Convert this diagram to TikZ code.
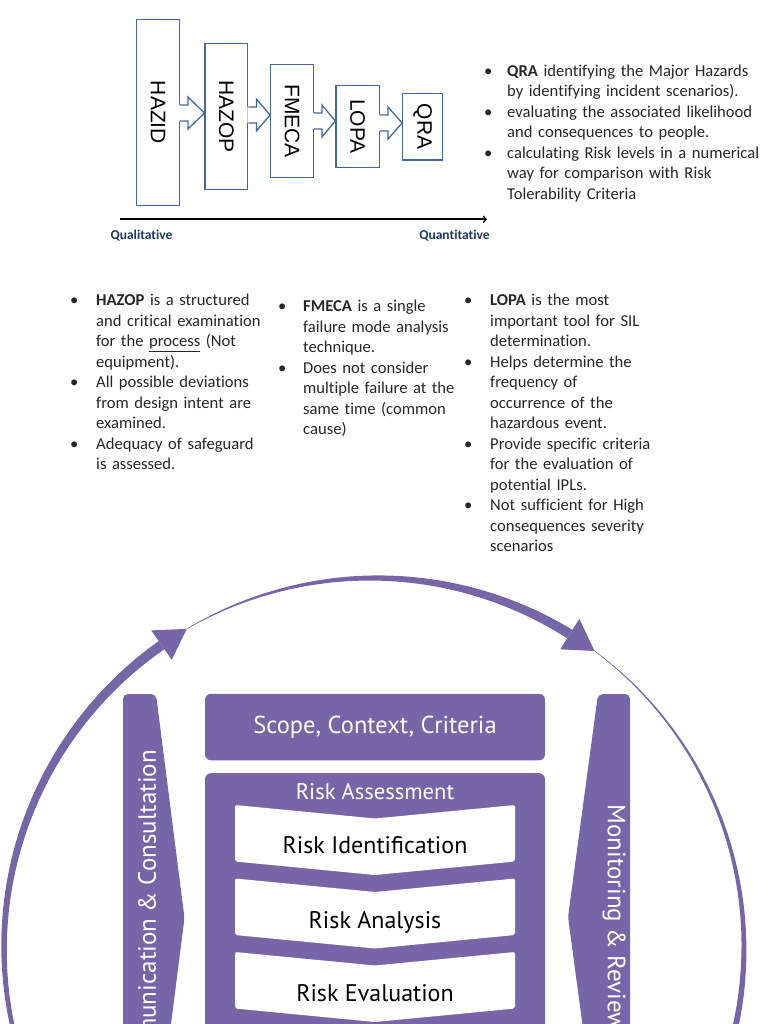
\documentclass[tikz,border=0pt]{standalone}
\usepackage{fontspec}
\setmainfont{Carlito}[Ligatures=NoCommon]
\newfontfamily\arialfont{Liberation Sans}
\newfontfamily\myriadfont{PT Sans}
\usetikzlibrary{calc}
\definecolor{toolblue}{RGB}{65,105,160}
\definecolor{isopurple}{RGB}{118,102,168}
\definecolor{axisnavy}{RGB}{31,56,100}
\newcommand{\bul}[1][23pt]{\par\noindent\hangindent=#1\hangafter=1\makebox[#1][l]{\hspace{-3pt}\textbullet}}
\newcommand{\toolarrow}[3]{%
  \coordinate (tail) at (#1.north |- 0,#3);
  \coordinate (tip) at (#2.south |- 0,#3);
  \fill[white] ($(tail)+(-1,-8)$) -- ($(tail)+(8,-8)$) -- ($(tail)+(8,-16)$) -- (tip)
    -- ($(tail)+(8,16)$) -- ($(tail)+(8,8)$) -- ($(tail)+(-1,8)$) -- cycle;
  \draw[toolline] ($(tail)+(0,-8)$) -- ($(tail)+(8,-8)$) -- ($(tail)+(8,-16)$) -- (tip)
    -- ($(tail)+(8,16)$) -- ($(tail)+(8,8)$) -- ($(tail)+(0,8)$);}

\begin{document}
\begin{tikzpicture}[x=1pt,y=-1pt,
  toolbox/.style={draw=toolblue,line width=1.3pt,fill=white,inner sep=0pt,rotate=-90,
    font=\arialfont\fontsize{21}{21}\selectfont},
  toolline/.style={toolblue,line width=1.3pt,line join=miter},
  axislabel/.style={font=\bfseries\fontsize{13.5}{14}\selectfont,text=axisnavy},
  notes/.style={anchor=north west,inner sep=0pt,align=left,text=black!85,
    font=\fontsize{16.6}{20.5}\selectfont},
  isobox/.style={fill=isopurple,rounded corners=6pt,inner sep=0pt,text=white},
  isotext/.style={font=\myriadfont\fontsize{22.6}{24}\selectfont,text=white},
  steptext/.style={font=\myriadfont\fontsize{24}{26}\selectfont,text=black},
  bartext/.style={font=\myriadfont\fontsize{25}{26}\selectfont,text=white},
  declare function={hwl(\a)=0.25+4.75*(240-\a)/114.95;
    hwt(\a)=0.25+4.75*(120.4-\a)/62.35;
    hwr(\a)=0.25+4.75*(53.4-\a)/115;}]
\useasboundingbox (0,0) rectangle (768,1024);
\clip (0,0) rectangle (768,1024);

% tools, qualitative to quantitative
\node[toolbox,minimum width=186.4pt,minimum height=42.6pt] (hazid) at (158,112.5) {HAZID};
\node[toolbox,minimum width=146pt,minimum height=42.7pt] (hazop) at (226.4,116.3) {HAZOP};
\node[toolbox,minimum width=113.4pt,minimum height=42.6pt] (fmeca) at (292,121) {FMECA};
\node[toolbox,minimum width=81.6pt,minimum height=43.3pt] (lopa) at (357.7,126.5) {LOPA};
\node[toolbox,minimum width=66.7pt,minimum height=40pt] (qra) at (422.7,126.7) {QRA};
\toolarrow{hazid}{hazop}{113}
\toolarrow{hazop}{fmeca}{115}
\toolarrow{fmeca}{lopa}{121}
\toolarrow{lopa}{qra}{123}

\node[axislabel] (qual) at (141.5,236) {Qualitative};
\node[axislabel] (quant) at (454.5,236) {Quantitative};
\draw[->,line width=1.6pt] (120,219.3) -- (487,219.3);

% notes
\node[notes,text width=278pt] (qranote) at (487,55.5) {%
\bul[20pt]\textbf{QRA} identifying the Major Hazards\newline by identifying incident scenarios).
\bul[20pt]evaluating the associated likelihood\newline and consequences to people.
\bul[20pt]calculating Risk levels in a numerical\newline way for comparison with Risk\newline Tolerability Criteria\par};
\node[notes,text width=200pt] (hazopnote) at (73,285) {%
\bul\textbf{HAZOP} is a structured\newline and critical examination\newline for the \underline{process} (Not\newline equipment).
\bul All possible deviations\newline from design intent are\newline examined.
\bul Adequacy of safeguard\newline is assessed.\par};
\node[notes,text width=195pt] (fmecanote) at (281,291) {%
\bul[22pt]\textbf{FMECA} is a single\newline failure mode analysis\newline technique.
\bul[22pt]Does not consider\newline multiple failure at the\newline same time (common\newline cause)\par};
\node[notes,text width=215pt] (lopanote) at (467,285) {%
\bul\textbf{LOPA} is the most\newline important tool for SIL\newline determination.
\bul Helps determine the\newline frequency of\newline occurrence of the\newline hazardous event.
\bul Provide specific criteria\newline for the evaluation of\newline potential IPLs.
\bul Not sufficient for High\newline consequences severity\newline scenarios\par};

% risk management cycle
\begin{scope}[shift={(374,948)},yscale=-1]
\fill[isopurple] plot[domain=240:125.05,samples=60] (\x:{370+hwl(\x)})
  -- plot[domain=125.05:240,samples=60] (\x:{370-hwl(\x)}) -- cycle;
\fill[isopurple] (120.4:370) -- (125.05:388) -- (125.05:352) -- cycle;
\fill[isopurple] plot[domain=120.4:58.05,samples=60] (\x:{370+hwt(\x)})
  -- plot[domain=58.05:120.4,samples=60] (\x:{370-hwt(\x)}) -- cycle;
\fill[isopurple] (53.4:370) -- (58.05:388) -- (58.05:352) -- cycle;
\fill[isopurple] plot[domain=53.4:-61.6,samples=60] (\x:{370+hwr(\x)})
  -- plot[domain=-61.6:53.4,samples=60] (\x:{370-hwr(\x)}) -- cycle;
\end{scope}

\fill[isopurple,rounded corners=5pt] (123,1150) -- (123,694) -- (156,694) -- (184.5,918) -- (156,1142) -- cycle;
\fill[isopurple,rounded corners=5pt] (630,1150) -- (630,694) -- (598,694) -- (568,917) -- (598,1140) -- cycle;
\node[bartext,rotate=90] (comm) at (147,918) {Communication \& Consultation};
\node[bartext,rotate=-90] (monitor) at (614,918) {Monitoring \& Review};

\node[isobox,minimum width=340pt,minimum height=66.5pt] (scope) at (375,727) {};
\node[isotext,font=\myriadfont\fontsize{24.5}{26}\selectfont] (scopetext) at (375,727) {Scope, Context, Criteria};
\node[isobox,minimum width=340pt,minimum height=340pt,anchor=north] (assess) at (375,773) {};
\node[isotext] (assesstext) at (375,792) {Risk Assessment};

\fill[white,rounded corners=2pt] (235,805) -- (375,818.5) -- (515,805) -- (515,861.5) -- (375,875) -- (235,861.5) -- cycle;
\fill[white,rounded corners=2pt] (235,878.5) -- (375,892) -- (515,878.5) -- (515,935) -- (375,948.5) -- (235,935) -- cycle;
\fill[white,rounded corners=2pt] (235,952) -- (375,965.5) -- (515,952) -- (515,1008.5) -- (375,1022) -- (235,1008.5) -- cycle;
\node[steptext] (ident) at (375,845) {Risk Identification};
\node[steptext] (analysis) at (375,922) {Risk Analysis};
\node[steptext] (evaluation) at (375,993) {Risk Evaluation};
\end{tikzpicture}
\end{document}
